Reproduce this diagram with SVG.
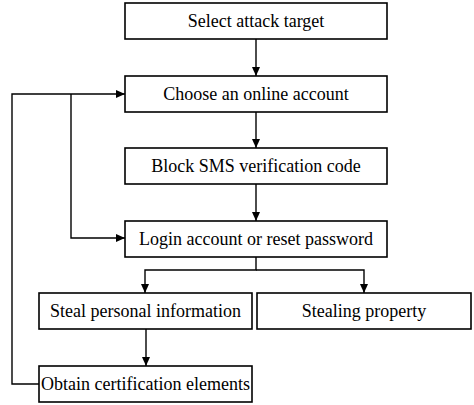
<svg xmlns="http://www.w3.org/2000/svg" width="474" height="405" viewBox="0 0 474 405">
<defs>
<marker id="ah" markerWidth="10" markerHeight="10" refX="9" refY="5" orient="auto" markerUnits="userSpaceOnUse">
<path d="M0,1 L9,5 L0,9 Z" fill="#000"/>
</marker>
<style>
.box{fill:#fff;stroke:#000;stroke-width:1.6}
.t{font-family:"Liberation Serif","Times New Roman",serif;font-size:18px;fill:#000;text-anchor:middle}
.c{fill:none;stroke:#000;stroke-width:1.4}
</style>
</defs>
<rect width="474" height="405" fill="#fff"/>
<g id="connectors">
<line class="c" x1="256" y1="39" x2="256" y2="76" marker-end="url(#ah)"/>
<line class="c" x1="256" y1="112" x2="256" y2="148" marker-end="url(#ah)"/>
<line class="c" x1="256" y1="184" x2="256" y2="221" marker-end="url(#ah)"/>
<polyline class="c" points="256,257 256,270 145,270 145,293" marker-end="url(#ah)"/>
<polyline class="c" points="256,270 364,270 364,293" marker-end="url(#ah)"/>
<line class="c" x1="146" y1="329" x2="146" y2="366" marker-end="url(#ah)"/>
<polyline class="c" points="39,384 12,384 12,94 125,94" marker-end="url(#ah)"/>
<polyline class="c" points="71,94 71,238 125,238" marker-end="url(#ah)"/>
</g>
<g id="n1"><rect class="box" x="125" y="3" width="262" height="36"/><text class="t" x="256" y="27">Select attack target</text></g>
<g id="n2"><rect class="box" x="125" y="76" width="262" height="36"/><text class="t" x="256" y="100">Choose an online account</text></g>
<g id="n3"><rect class="box" x="125" y="148" width="262" height="36"/><text class="t" x="256" y="172">Block SMS verification code</text></g>
<g id="n4"><rect class="box" x="125" y="221" width="262" height="36"/><text class="t" x="256" y="245">Login account or reset password</text></g>
<g id="n5"><rect class="box" x="39" y="293" width="213" height="36"/><text class="t" x="145.5" y="317">Steal personal information</text></g>
<g id="n6"><rect class="box" x="257" y="293" width="214" height="36"/><text class="t" x="364" y="317">Stealing property</text></g>
<g id="n7"><rect class="box" x="39" y="366" width="213" height="36"/><text class="t" x="145.5" y="390">Obtain certification elements</text></g>
</svg>
